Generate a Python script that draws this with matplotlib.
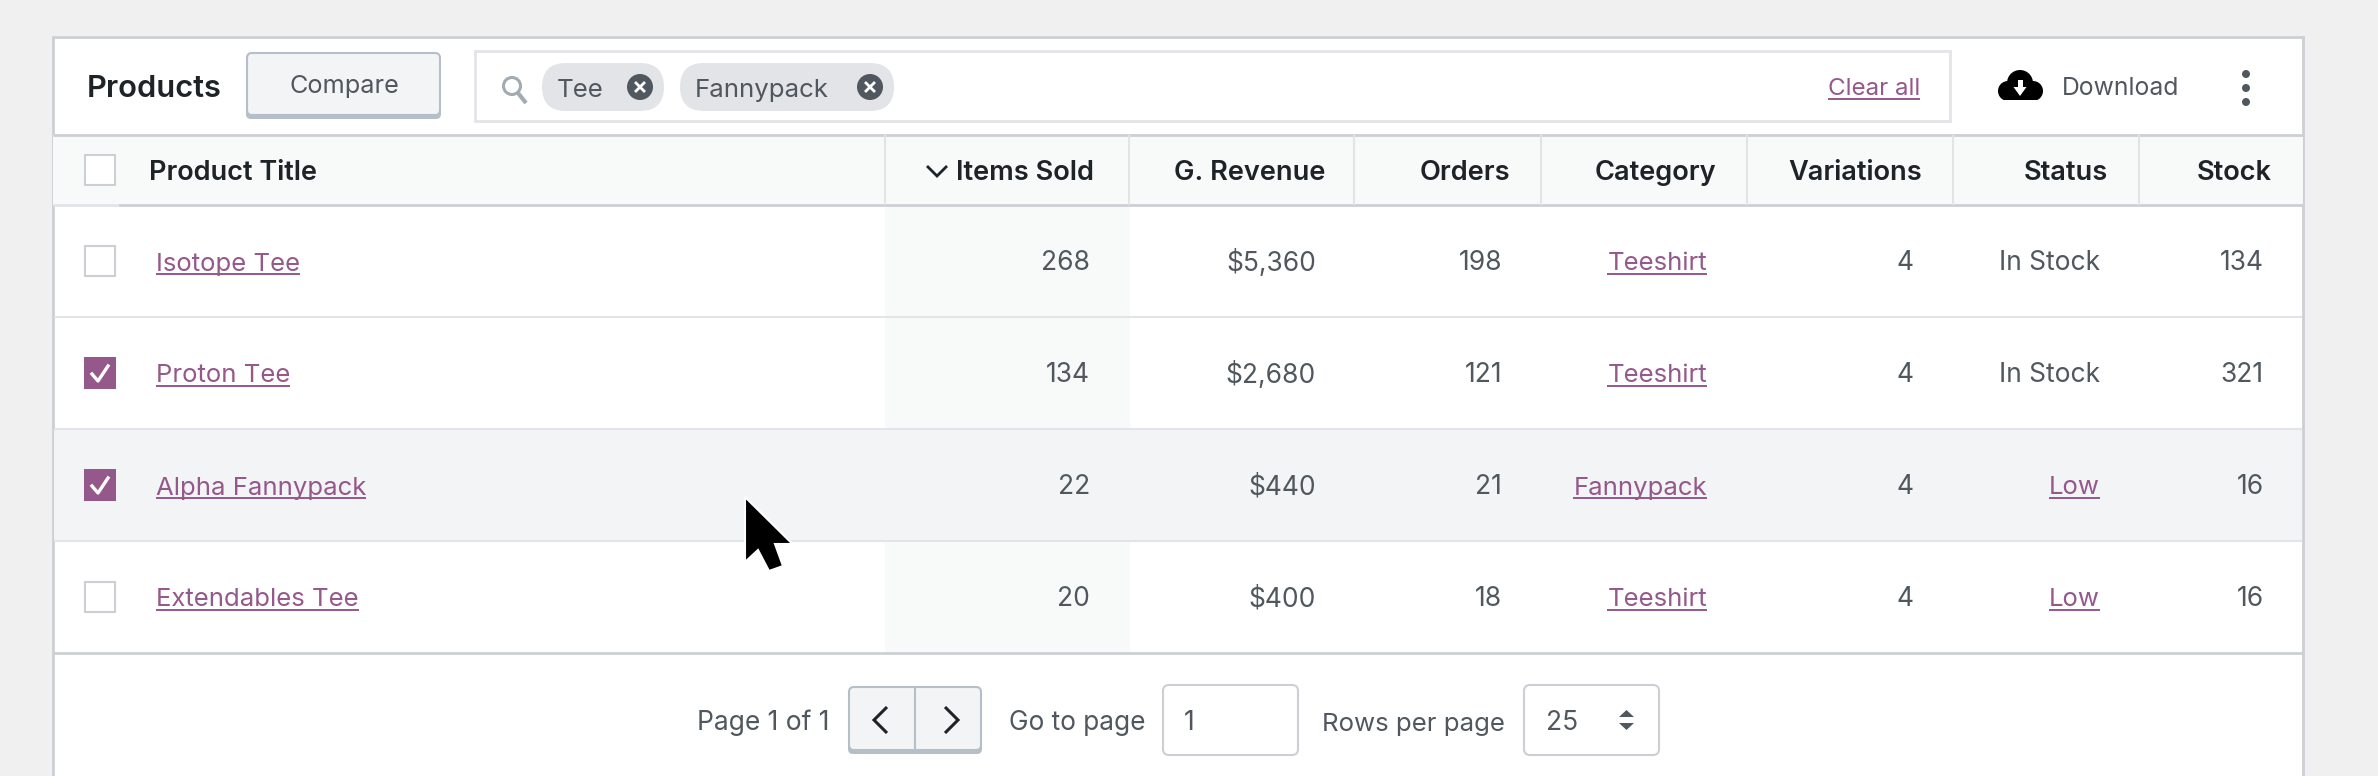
import matplotlib
matplotlib.use("Agg")
import matplotlib.pyplot as plt
from matplotlib.patches import Rectangle, FancyBboxPatch, Circle, Polygon

W, H = 2378, 776

# table data
headers = ['Items Sold', 'G. Revenue', 'Orders', 'Category', 'Variations', 'Status', 'Stock']
titles = ['Isotope Tee', 'Proton Tee', 'Alpha Fannypack', 'Extendables Tee']
checked = [False, True, True, False]
items_sold = ['268', '134', '22', '20']
revenue = ['$5,360', '$2,680', '$440', '$400']
orders = ['198', '121', '21', '18']
categories = ['Teeshirt', 'Teeshirt', 'Fannypack', 'Teeshirt']
variations = ['4', '4', '4', '4']
status = ['In Stock', 'In Stock', 'Low', 'Low']
stock = ['134', '321', '16', '16']
chips = ['Tee', 'Fannypack']

# layout, in pixels
col_lines = [885, 1129, 1354, 1541, 1747, 1953, 2139]
head_right = [1094, 1325, 1510, 1716, 1922, 2108, 2272]
cell_right = [1090, 1316, 1502, 1707, 1913, 2100, 2264]
row_lines = [205, 317, 429, 541, 653]
chip_boxes = [(542, 664, 557, 640), (680, 894, 695, 870)]

PURPLE = '#95588a'
TEXT = '#50575e'
DARK = '#1d2327'
BORDER = '#ccd0d4'
LIGHT = '#e2e4e7'
HEAD = '#f8f9f9'

plt.rcParams['font.family'] = ['Inter', 'DejaVu Sans']
FS = 18.5

fig = plt.figure(figsize=(W / 100, H / 100), dpi=100, facecolor='#f0f0f1')
ax = fig.add_axes([0, 0, 1, 1])
ax.set_xlim(0, W)
ax.set_ylim(H, 0)
ax.axis('off')


def rect(x0, y0, x1, y1, fc='none', ec='none', lw=0, z=1):
    ax.add_patch(Rectangle((x0, y0), x1 - x0, y1 - y0, fc=fc, ec=ec, lw=lw, zorder=z))


def rbox(x0, y0, x1, y1, r, fc='white', ec='none', lw=0, z=2):
    ax.add_patch(FancyBboxPatch((x0 + r, y0 + r), x1 - x0 - 2 * r, y1 - y0 - 2 * r,
                                boxstyle='round,pad=%g,rounding_size=%g' % (r, r),
                                fc=fc, ec=ec, lw=lw, zorder=z))


def line(xs, ys, color, lw=1.5, z=3):
    ax.plot(xs, ys, color=color, lw=lw, zorder=z, solid_capstyle='butt', solid_joinstyle='miter')


def label(x, y, s, color=TEXT, ha='left', weight='normal', fs=FS, link=False):
    # y is the baseline
    t = ax.text(x, y, s, color=color, ha=ha, va='baseline', fontsize=fs, fontweight=weight, zorder=5)
    if link:
        bb = t.get_window_extent(fig.canvas.get_renderer())
        line([bb.x0, bb.x1], [y + 3.5, y + 3.5], color, lw=1.4)
    return t


def checkbox(yc, on):
    if on:
        rect(84, yc - 16, 116, yc + 16, fc=PURPLE, z=3)
        ax.plot([92, 98, 108], [yc + 1, yc + 8, yc - 7], color='white', lw=2.4, zorder=4)
    else:
        rect(85, yc - 15, 115, yc + 15, fc='white', ec=BORDER, lw=1.5, z=3)


# card
rect(53, 37, 2303, H + 10, fc='white', ec=BORDER, lw=2)

# top bar
label(87, 97, 'Products', color=DARK, weight='semibold', fs=22.2)
rbox(246, 56, 441, 119, 5, fc='#b5bfc9')
rbox(247, 53, 440, 115, 5, fc='#f3f4f5', ec='#b5bfc9', lw=1.5, z=3)
label(344, 93, 'Compare', ha='center', fs=18.2)

rect(475, 51, 1950, 120.5, fc='white', ec=LIGHT, lw=2)
ax.add_patch(Circle((512, 86), 8.5, fc='none', ec='#a2aab2', lw=2.2, zorder=3))
line([518, 526], [93, 103], '#a2aab2', lw=3)
for chip, (x0, x1, xt, xc) in zip(chips, chip_boxes):
    rbox(x0, 63, x1, 111, 24, fc=LIGHT)
    label(xt, 97, chip, fs=18.6)
    ax.add_patch(Circle((xc, 87), 13, fc=TEXT, zorder=3))
    ax.plot([xc - 4, xc + 4], [83, 91], color='white', lw=2, zorder=4)
    ax.plot([xc - 4, xc + 4], [91, 83], color='white', lw=2, zorder=4)
label(1920, 95, 'Clear all', color=PURPLE, ha='right', link=True, fs=17.4)

# download icon
clip = Rectangle((1990, 60), 60, 40, transform=ax.transData)
for cx, cy, r in [(2020, 83, 13), (2008, 91, 10), (2033, 91, 10)]:
    c = Circle((cx, cy), r, fc='black', zorder=3)
    ax.add_patch(c)
    c.set_clip_path(clip)
rect(2008, 88, 2033, 100, fc='black', z=3)
rect(2017.5, 80, 2022.5, 88, fc='white', z=4)
ax.add_patch(Polygon([(2013.5, 87), (2026.5, 87), (2020, 96)], fc='white', zorder=4))
label(2062, 95, 'Download', fs=17.8)
for y in [74, 88, 102]:
    ax.add_patch(Circle((2246, y), 4, fc=TEXT, zorder=3))

# header row
rect(53, 135, 2303, 205, fc=HEAD)
line([53, 2303], [135, 135], BORDER, lw=2)
line([118, 2303], [205, 205], BORDER, lw=2)
line([53, 118], [205, 205], LIGHT, lw=2)
for x in col_lines:
    line([x, x], [135, 205], LIGHT, lw=1.5)
checkbox(170, False)
label(149, 179.5, 'Product Title', color=DARK, weight='semibold', fs=19.5)
for name, x in zip(headers, head_right):
    label(x, 179.5, name, color=DARK, ha='right', weight='semibold', fs=19.6)
line([927, 937, 947], [166, 176, 166], DARK, lw=2)

# body rows
rect(885, 206, 1130, 653, fc=HEAD)
rect(54, 430, 2302, 541, fc='#f3f4f5', z=1.5)
for y in row_lines[1:-1]:
    line([54, 2302], [y, y], LIGHT, lw=1.5)
line([53, 2303], [653, 653], BORDER, lw=2)

columns = [items_sold, revenue, orders, categories, variations, status, stock]
for i in range(len(titles)):
    yc = (row_lines[i] + row_lines[i + 1]) / 2
    base = yc + 9.5
    checkbox(yc, checked[i])
    label(156, base, titles[i], color=PURPLE, link=True)
    for col, x in zip(columns, cell_right):
        val = col[i]
        is_link = col is categories or val == 'Low'
        label(x, base, val, color=PURPLE if is_link else TEXT, ha='right', link=is_link,
              fs=FS if is_link else 19)

# pagination
label(697, 730.5, 'Page 1 of 1', fs=19)
rbox(848, 690, 982, 754, 5, fc='#b5bfc9')
rbox(849, 687, 981, 750, 5, fc='#f3f4f5', ec='#b5bfc9', lw=1.5, z=3)
line([915, 915], [687, 750], '#b5bfc9', lw=1.5, z=4)
line([887, 874, 887], [707, 720, 733], DARK, lw=2.2, z=4)
line([945, 958, 945], [707, 720, 733], DARK, lw=2.2, z=4)
label(1009, 730.5, 'Go to page', fs=18.9)
rbox(1163, 685, 1298, 755, 6, fc='white', ec=BORDER, lw=1.5)
label(1184, 730.5, '1', fs=19)
label(1322, 730.5, 'Rows per page', fs=18.6)
rbox(1524, 685, 1659, 755, 6, fc='white', ec=BORDER, lw=1.5)
label(1546, 730.5, '25', fs=19)
ax.add_patch(Polygon([(1619, 717), (1634, 717), (1626.5, 710)], fc=TEXT, zorder=4))
ax.add_patch(Polygon([(1619, 723), (1634, 723), (1626.5, 730)], fc=TEXT, zorder=4))

# mouse pointer
ax.add_patch(Polygon([(745, 497), (792.5, 544), (775, 544), (783, 566), (769, 571), (758, 550), (745, 562)],
                     fc='black', ec='white', lw=1.5, zorder=6))

fig.savefig('out.png', dpi=100, facecolor=fig.get_facecolor())
